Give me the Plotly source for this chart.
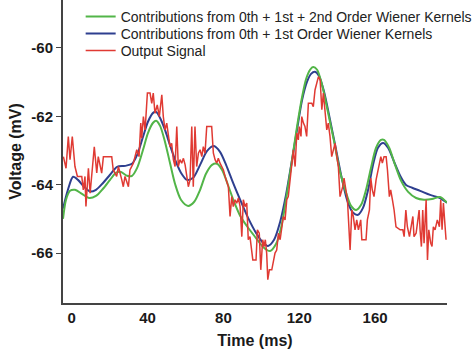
import plotly.graph_objects as go

# ---------------- data ----------------
green_t = [-4.6, -3.0, -0.9, 1.7, 5.4, 9.1, 12.8, 16.5, 20.2, 23.4, 26.0, 29.2, 31.8, 34.5,
           37.6, 40.2, 42.9, 44.5, 46.6, 49.2, 51.8, 54.5, 57.6, 61.4, 64.6, 67.7, 70.8, 74.0,
           76.6, 79.3, 82.4, 85.6, 88.8, 93.0, 97.2, 100.9, 104.6, 107.8, 110.4, 113.0, 116.2,
           118.8, 121.5, 123.6, 125.7, 127.3, 129.4, 132.0, 135.2, 138.4, 141.5, 144.7, 147.3,
           150.0, 152.6, 155.2, 157.8, 160.5, 163.1, 164.7, 167.4, 170.5, 173.7, 177.4, 181.6,
           185.8, 190.0, 194.2, 197.9]
green_v = [-65.0, -64.44, -64.18, -64.15, -64.27, -64.39, -64.33, -64.12, -63.86, -63.65, -63.63,
           -63.74, -63.74, -63.51, -62.98, -62.49, -62.19, -62.13, -62.28, -62.75, -63.36, -63.98,
           -64.44, -64.62, -64.50, -64.15, -63.68, -63.42, -63.39, -63.57, -64.01, -64.50, -64.91,
           -65.26, -65.56, -65.82, -65.94, -65.73, -65.26, -64.44, -63.27, -62.31, -61.43, -60.91,
           -60.64, -60.56, -60.64, -61.08, -61.90, -62.75, -63.63, -64.24, -64.62, -64.74, -64.59,
           -64.15, -63.51, -62.92, -62.69, -62.69, -62.92, -63.42, -63.89, -64.21, -64.39, -64.44,
           -64.42, -64.36, -64.53]

blue_t = [-4.6, -2.0, 0.7, 3.3, 6.5, 9.7, 12.8, 16.5, 20.2, 23.9, 28.1, 31.8, 34.5, 37.6, 40.2,
          42.9, 44.5, 46.6, 49.2, 51.8, 54.5, 57.6, 60.8, 64.0, 67.7, 71.4, 75.0, 78.2, 81.4, 85.1,
          88.8, 93.0, 97.2, 100.9, 103.5, 106.7, 109.9, 113.0, 116.2, 118.8, 121.5, 124.1, 126.2,
          128.3, 130.4, 133.1, 136.2, 139.4, 142.6, 145.7, 148.4, 151.0, 153.6, 156.3, 158.9,
          161.5, 164.2, 166.8, 170.0, 173.2, 176.3, 179.5, 183.7, 189.0, 194.2, 197.9]
blue_v = [-64.7, -64.15, -63.77, -63.86, -64.06, -64.20, -64.15, -63.95, -63.71, -63.48, -63.45,
          -63.39, -63.13, -62.60, -62.16, -61.90, -61.87, -62.05, -62.40, -62.84, -63.27, -63.65,
          -63.86, -63.80, -63.42, -63.01, -62.87, -63.04, -63.42, -63.95, -64.44, -64.97, -65.41,
          -65.70, -65.79, -65.61, -65.09, -64.30, -63.27, -62.40, -61.52, -60.99, -60.76, -60.70,
          -60.82, -61.29, -62.10, -62.98, -63.86, -64.53, -64.82, -64.88, -64.68, -64.15, -63.42,
          -62.92, -62.78, -62.92, -63.33, -63.74, -64.01, -64.09, -64.18, -64.30, -64.39, -64.53]

red_t = [-4.4, -3.0, -1.8, -0.9, 0.3, 1.7, 3.0, 5.3, 6.1, 7.0, 7.5, 8.8, 9.7, 11.9, 13.2, 14.0,
         15.8, 16.7, 21.1, 21.9, 23.7, 24.6, 26.4, 27.2, 28.1, 29.9, 30.7, 32.5, 34.3, 35.5, 36.4,
         36.9, 37.8, 38.7, 39.9, 41.3, 42.2, 43.0, 43.9, 45.1, 46.2, 47.5, 48.3, 49.2, 50.1, 50.9,
         51.8, 52.7, 53.6, 54.5, 55.4, 56.2, 57.1, 58.0, 58.9, 59.8, 60.7, 61.5, 62.4, 63.3, 64.1,
         65.0, 65.9, 66.8, 67.7, 68.6, 69.4, 70.3, 71.2, 73.8, 74.7, 75.6, 76.5, 77.3, 78.2, 80.0,
         80.9, 81.8, 82.6, 83.5, 84.4, 85.2, 86.1, 87.0, 87.9, 88.8, 89.7, 90.5, 91.4, 92.3, 93.1,
         94.0, 95.5, 97.2, 97.9, 98.9, 99.7, 100.7, 101.4, 102.1, 102.8, 103.4, 104.2, 105.5,
         106.3, 107.2, 108.1, 109.0, 109.9, 110.8, 111.6, 112.5, 113.4, 114.2, 115.1, 116.0,
         116.9, 117.8, 118.7, 119.5, 120.0, 120.9, 121.3, 122.2, 123.0, 123.9, 124.8, 126.6,
         127.4, 128.3, 129.2, 130.1, 131.0, 131.9, 132.7, 133.6, 134.5, 135.3, 136.2, 137.1,
         138.0, 138.9, 139.8, 140.6, 141.5, 142.9, 143.6, 144.3, 145.4, 146.8, 147.7, 148.5,
         149.4, 150.3, 151.2, 152.4, 153.0, 155.2, 155.9, 157.0, 157.7, 158.5, 159.4, 160.5,
         161.2, 162.2, 163.0, 163.8, 164.7, 165.8, 166.5, 167.5, 168.2, 169.1, 170.0, 171.0,
         173.2, 174.6, 175.3, 176.2, 177.0, 178.1, 178.8, 179.9, 180.5, 181.6, 182.3, 183.2,
         183.7, 184.4, 185.1, 185.8, 186.9, 187.6, 188.3, 189.3, 190.0, 190.7, 191.6, 192.8,
         193.9, 194.6, 195.3, 196.0, 197.4]
red_v = [-63.18, -63.52, -62.59, -63.27, -62.59, -63.47, -63.76, -63.76, -64.15, -63.76, -64.64,
         -63.52, -64.25, -62.89, -63.66, -63.18, -63.66, -63.18, -63.18, -63.57, -63.76, -63.47,
         -63.86, -64.06, -63.76, -64.06, -63.57, -63.37, -62.98, -63.18, -62.20, -62.64, -62.01,
         -62.40, -61.32, -61.32, -61.62, -61.32, -61.91, -61.67, -62.01, -61.37, -62.01, -62.40,
         -62.20, -62.59, -62.89, -62.79, -63.27, -63.47, -62.30, -63.47, -63.27, -63.37, -63.23,
         -63.42, -63.86, -64.06, -63.86, -62.30, -64.06, -62.30, -63.47, -63.08, -62.98, -63.18,
         -62.89, -63.08, -62.30, -62.30, -63.08, -63.27, -63.37, -63.23, -63.37, -63.57, -63.76,
         -63.96, -64.06, -64.93, -64.35, -64.64, -64.44, -64.54, -64.39, -64.64, -65.52, -64.44,
         -64.64, -64.54, -65.61, -65.52, -66.20, -66.20, -65.32, -65.42, -66.49, -65.61, -65.81,
         -65.61, -66.00, -66.78, -66.49, -66.49, -66.20, -66.00, -65.91, -65.42, -65.61, -65.23,
         -64.93, -65.03, -64.44, -64.35, -63.86, -63.57, -62.98, -63.47, -62.49, -62.69, -62.30,
         -62.59, -62.01, -62.20, -62.30, -62.59, -61.62, -61.62, -61.72, -61.23, -61.03, -60.84,
         -60.94, -61.81, -61.32, -61.81, -62.40, -62.20, -62.59, -63.18, -62.98, -62.79, -63.18,
         -63.47, -64.35, -64.06, -63.81, -64.06, -64.44, -65.91, -64.74, -64.93, -65.32, -65.03,
         -65.32, -65.03, -65.61, -65.61, -65.03, -64.74, -63.81, -64.15, -64.35, -63.86, -63.66,
         -63.37, -63.18, -63.37, -63.18, -63.18, -63.57, -64.35, -64.15, -64.44, -64.74, -65.23,
         -65.32, -65.32, -65.52, -64.74, -65.23, -65.52, -65.32, -64.93, -65.52, -65.42, -65.13,
         -64.74, -65.32, -65.81, -64.74, -65.71, -64.44, -66.20, -65.32, -65.71, -65.81, -65.23,
         -65.32, -65.03, -65.23, -64.44, -65.32, -64.54, -65.61]

x_ticks = [0, 40, 80, 120, 160]
x_tick_labels = ["0", "40", "80", "120", "160"]
y_ticks = [-60, -62, -64, -66]
y_tick_labels = ["-60", "-62", "-64", "-66"]

names = ["Contributions from 0th + 1st + 2nd Order Wiener Kernels",
         "Contributions from 0th + 1st Order Wiener Kernels",
         "Output Signal"]

GREEN = "#52b548"
BLUE = "#2e3f8f"
RED = "#e03a33"

# ---------------- figure ----------------
fig = go.Figure()
fig.add_trace(go.Scatter(x=blue_t, y=blue_v, mode="lines", name=names[1], legend="legend2",
                         line=dict(color=BLUE, width=2, shape="spline", smoothing=0.8)))
fig.add_trace(go.Scatter(x=green_t, y=green_v, mode="lines", name=names[0], legend="legend",
                         line=dict(color=GREEN, width=2, shape="spline", smoothing=0.8)))
fig.add_trace(go.Scatter(x=red_t, y=red_v, mode="lines", name=names[2], legend="legend3",
                         line=dict(color=RED, width=1.5)))

leg_common = dict(xanchor="left", yanchor="middle", bgcolor="rgba(0,0,0,0)",
                  font=dict(size=14, color="#222"), itemwidth=30, borderwidth=0)
legx = 0.046

fig.update_layout(
    width=474, height=353,
    margin=dict(l=63, r=27, t=0, b=50, autoexpand=False),
    paper_bgcolor="white", plot_bgcolor="white",
    font=dict(family="Liberation Sans, Arial, sans-serif", color="#1a1a1a"),
    showlegend=True,
    legend=dict(x=legx, y=0.944, **leg_common),
    legend2=dict(x=legx, y=0.888, **leg_common),
    legend3=dict(x=legx, y=0.832, **leg_common),
    xaxis=dict(range=[-4.6, 197.9], tickvals=x_ticks, ticktext=x_tick_labels, ticks="",
               showgrid=False, zeroline=False,
               showline=True, linecolor="#444", linewidth=2,
               tickfont=dict(size=15, family="Liberation Sans, Arial", weight="bold"),
               title=dict(text="<b>Time (ms)</b>", font=dict(size=16), standoff=10)),
    yaxis=dict(range=[-67.46, -58.6], tickvals=y_ticks, ticktext=y_tick_labels,
               ticks="outside", ticklen=5,
               tickcolor="#444", showgrid=False, zeroline=False,
               showline=True, linecolor="#444", linewidth=2,
               tickfont=dict(size=15, family="Liberation Sans, Arial", weight="bold"),
               title=dict(text="<b>Voltage (mV)</b>", font=dict(size=16), standoff=6)),
)

fig.write_html("out.html")
